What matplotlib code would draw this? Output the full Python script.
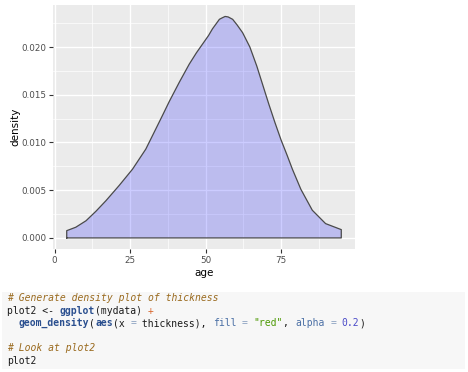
import matplotlib.pyplot as plt
from matplotlib.patches import Rectangle

# curva de densidade (idade x densidade)
idade = [4, 7, 10.4, 13.7, 17, 21.4, 25.8, 30.2, 33.5, 36, 38, 41.3, 44.6, 47,
         49, 51, 52.3, 54.6, 55.5, 56.5, 57.5, 59, 60.5, 62.3, 64.7, 67, 69,
         71, 73, 75, 77, 78.8, 81.6, 85.4, 89.8, 95]
densidade = [0.00076, 0.00112, 0.0018, 0.0028, 0.0039, 0.0055, 0.0072, 0.0093,
             0.0114, 0.0130, 0.0143, 0.0163, 0.0182, 0.0194, 0.0203, 0.0212,
             0.0219, 0.0229, 0.02305, 0.0232, 0.02315, 0.0229, 0.0223, 0.0215,
             0.0200, 0.0180, 0.0160, 0.0140, 0.0121, 0.0103, 0.0087, 0.0072,
             0.0051, 0.0029, 0.0015, 0.00087]
xticks = [0, 25, 50, 75]
yticks = [0.000, 0.005, 0.010, 0.015, 0.020]

W, H = 468, 372
fig = plt.figure(figsize=(W / 100, H / 100), dpi=100)
ax = fig.add_axes([53 / W, (H - 249) / H, (355 - 53) / W, (249 - 5) / H])
ax.set_facecolor('#ebebeb')

xs = [idade[0]] + idade + [idade[-1]]
ys = [0] + densidade + [0]
ax.fill(xs, ys, facecolor='blue', alpha=0.2, edgecolor='none', zorder=3)
ax.plot(xs + [idade[0]], ys + [0], color='#4a4a4a', lw=0.9, zorder=4,
        solid_joinstyle='round')

ax.set_xlim(-0.55, 99.55)
ax.set_ylim(-0.00116, 0.0244)
ax.set_xticks(xticks)
ax.set_xticklabels([str(t) for t in xticks])
ax.set_yticks(yticks)
ax.set_yticklabels([f'{t:.3f}' for t in yticks])
ax.set_xticks([12.5, 37.5, 62.5, 87.5], minor=True)
ax.set_yticks([0.0025, 0.0075, 0.0125, 0.0175, 0.0225], minor=True)
ax.grid(which='major', color='white', lw=1.0, zorder=1)
ax.grid(which='minor', color='white', lw=0.5, zorder=1)
ax.set_axisbelow(True)
for s in ax.spines.values():
    s.set_visible(False)
ax.tick_params(which='major', length=3, color='#333333', labelsize=6.3,
               labelcolor='#4d4d4d', pad=2)
ax.tick_params(which='minor', length=0)
ax.set_xlabel('age', fontsize=7.5, labelpad=2)
ax.set_ylabel('density', fontsize=7.5, labelpad=0.5)

# bloco de código
fig.patches.append(Rectangle((2 / W, (H - 369) / H), 463 / W, 77 / H,
                             transform=fig.transFigure, facecolor='#f7f7f7',
                             edgecolor='none', zorder=0))

fs = 7.0
x0 = 7
com, kw, op, arg, eq, st, num, txt = ('#9a6a1e', '#2a4f8f', '#d8642a', '#4a6fa5',
                                      '#8aa0c0', '#4e9a06', '#4a4ac8', '#1a1a1a')
N, I, B = 'normal', 'italic', 'bold'
linhas = [
    [('# Generate density plot of thickness', com, I, N)],
    [('plot2 <- ', txt, N, N), ('ggplot', kw, N, B), ('(mydata) ', txt, N, N),
     ('+', op, N, N)],
    [('  ', txt, N, N), ('geom_density', kw, N, B), ('(', txt, N, N),
     ('aes', kw, N, B), ('(x ', txt, N, N), ('=', eq, N, N),
     (' thickness), ', txt, N, N), ('fill', arg, N, N), (' ', txt, N, N),
     ('=', eq, N, N), (' ', txt, N, N), ('"red"', st, N, N), (', ', txt, N, N),
     ('alpha', arg, N, N), (' ', txt, N, N), ('=', eq, N, N), (' ', txt, N, N),
     ('0.2', num, N, N), (')', txt, N, N)],
    [],
    [('# Look at plot2', com, I, N)],
    [('plot2', txt, N, N)],
]

# largura real de um caractere (a renderização arredonda os avanços)
rend = fig.canvas.get_renderer()
larg = {}
for peso in (N, B):
    t = fig.text(0, 0, 'x' * 100, fontsize=fs, family='DejaVu Sans Mono',
                 weight=peso)
    larg[peso] = t.get_window_extent(rend).width / 100
    t.remove()

y = 298
for linha in linhas:
    x = x0
    for texto, cor, estilo, peso in linha:
        if texto.strip():
            fig.text(x / W, 1 - y / H, texto, color=cor, style=estilo,
                     weight=peso, fontsize=fs, family='DejaVu Sans Mono',
                     va='center', ha='left')
        x += len(texto) * larg[peso]
    y += 12.6

plt.savefig('out.png', dpi=100)
